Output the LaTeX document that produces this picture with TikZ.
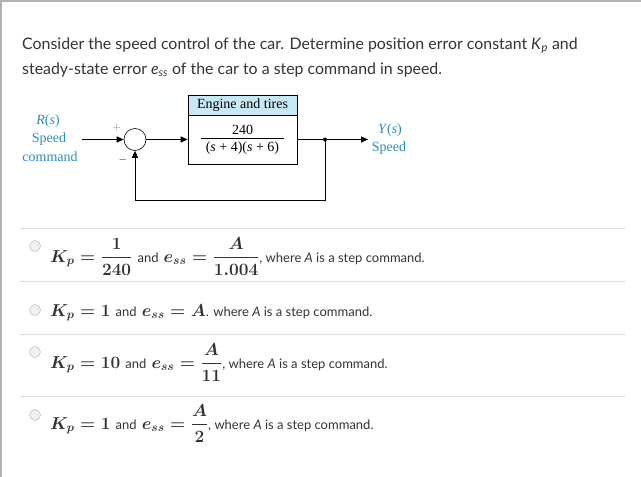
\documentclass[tikz,border=0pt]{standalone}
\usepackage{fontspec}
\usepackage{amsmath}
\newfontfamily\lato{Lato}
\newfontfamily\tnr{Liberation Serif}
\usetikzlibrary{arrows.meta}
\definecolor{bl}{HTML}{2B8DBE}
\definecolor{hdr}{HTML}{C8E8F5}
\definecolor{txt}{HTML}{333333}
\definecolor{sep}{HTML}{DDDDDD}
\newcommand{\smallt}[1]{{\lato\fontsize{13}{15}\selectfont #1}}
\begin{document}
\begin{tikzpicture}[x=1pt,y=-1pt,
  blab/.style={font=\tnr\fontsize{14}{15}\selectfont,text=bl,inner sep=0pt},
  sig/.style={line width=1pt,-{Triangle[length=7pt,width=6pt]}},
  radio/.style={circle,draw=gray!60,fill=gray!12,minimum size=11pt,inner sep=0pt},
  opt/.style={anchor=base west,inner sep=0pt,text=txt,font=\fontsize{17}{19}\selectfont}]
\useasboundingbox (0,0) rectangle (641,477);
\draw[gray!60,line width=1.2pt] (1,477) -- (1,1) -- (641,1);
\node[anchor=base west,inner sep=0pt,text=txt,font=\lato\fontsize{15.9}{18}\selectfont] (q1) at (22,49) {Consider the speed control of the car. Determine position error constant \textit{K}\textsubscript{\textit{p}} and};
\node[anchor=base west,inner sep=0pt,text=txt,font=\lato\fontsize{15.9}{18}\selectfont] (q2) at (22,74) {steady-state error \textit{e}\textsubscript{\textit{ss}} of the car to a step command in speed.};
% block diagram
\node[draw,fill=hdr,minimum width=109pt,minimum height=20pt,inner sep=0pt,font=\tnr\fontsize{14}{15}\selectfont,line width=0.6pt] (hd) at (242.5,105) {Engine and tires};
\node[draw,minimum width=109pt,minimum height=49pt,inner sep=0pt,font=\tnr\fontsize{14}{15}\selectfont,line width=0.6pt,anchor=north] (bx) at (hd.south) {$\begin{array}{c}\text{240}\\[-1pt]\hline \rule{0pt}{13pt}\text{(\textit{s} + 4)(\textit{s} + 6)}\end{array}$};
\node[circle,draw,minimum size=22pt,inner sep=0pt,line width=0.6pt] (sum) at (135,139.5) {};
\coordinate (in) at (82,139.5);
\coordinate (br) at (325,139.5);
\coordinate (out) at (368,139.5);
\coordinate (fb) at (325,200);
\coordinate (fb2) at (135,200);
\draw[sig] (in) -- (sum);
\draw[sig] (sum) -- (sum -| bx.west);
\draw[line width=1pt] (sum -| bx.east) -- (br);
\draw[sig] (br) -- (out);
\fill (br) circle (2pt);
\draw[sig] (br) -- (fb) -- (fb2) -- (sum);
\node[blab] (r1) at (48,121) {\textit{R}(\textit{s})};
\node[blab] (r2) at (49,139) {Speed};
\node[blab] (r3) at (50,157) {command};
\node[blab] (y1) at (390,130) {\textit{Y}(\textit{s})};
\node[blab] (y2) at (389,148) {Speed};
\node[inner sep=0pt,font=\fontsize{11}{11}\selectfont,text=gray] (pl) at (117,128) {$+$};
\node[inner sep=0pt,font=\fontsize{11}{11}\selectfont] (mi) at (123,160) {$-$};
% separators
\foreach \yy in {228,281,334,396} \draw[sep,line width=0.8pt] (20,\yy) -- (625,\yy);
% options
\node[radio] (c1) at (35,246) {};
\node[radio] (c2) at (35,310) {};
\node[radio] (c3) at (35,352) {};
\node[radio] (c4) at (35,415) {};
\node[opt] (o1) at (50,262) {$\boldsymbol{K_p=\dfrac{1}{240}}$ \smallt{and} $\boldsymbol{e_{ss}=\dfrac{A}{1.004}}$\smallt{, where \textit{A} is a step command.}};
\node[opt] (o2) at (50,316) {$\boldsymbol{K_p=1}$ \smallt{and} $\boldsymbol{e_{ss}=A}$\smallt{. where \textit{A} is a step command.}};
\node[opt] (o3) at (50,368) {$\boldsymbol{K_p=10}$ \smallt{and} $\boldsymbol{e_{ss}=\dfrac{A}{11}}$\smallt{, where \textit{A} is a step command.}};
\node[opt] (o4) at (50,429) {$\boldsymbol{K_p=1}$ \smallt{and} $\boldsymbol{e_{ss}=\dfrac{A}{2}}$\smallt{, where \textit{A} is a step command.}};
\end{tikzpicture}
\end{document}
